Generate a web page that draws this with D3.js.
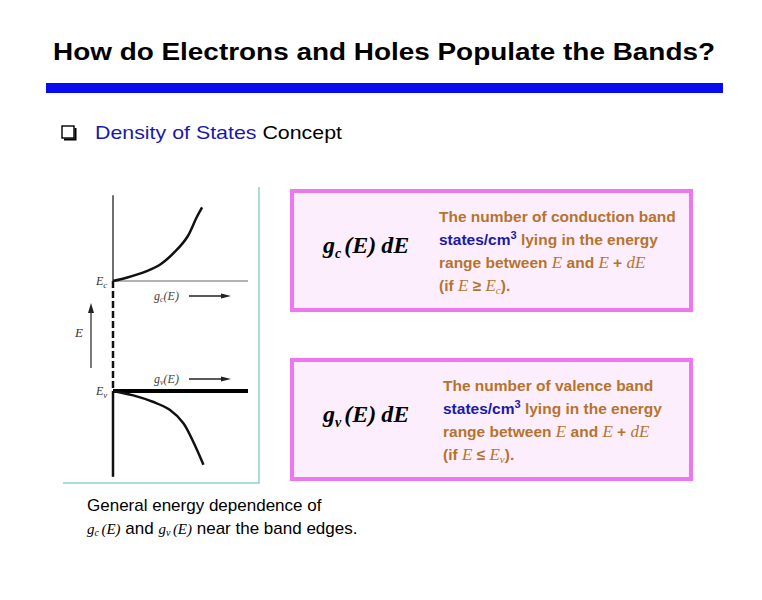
<!DOCTYPE html>
<html>
<head>
<meta charset="utf-8">
<script src="https://cdn.jsdelivr.net/npm/d3@7"></script>
<style>
body { margin: 0; background: #fff; }
svg { display: block; }
</style>
</head>
<body>
<svg width="762" height="600"></svg>
<script>
// curve points (density in arbitrary units, energy relative to Ev)
const gcDensity = [0, 0.10, 0.25, 0.35, 0.47, 0.55, 0.62, 0.66]
const gcEnergy = [1.0, 1.03, 1.09, 1.15, 1.28, 1.40, 1.58, 1.67]
const gvDensity = [0, 0.15, 0.30, 0.42, 0.52, 0.59, 0.67]
const gvEnergy = [0, -0.04, -0.10, -0.17, -0.29, -0.45, -0.67]
const edgeNames = ['c', 'v']
const edgeEnergy = [1.0, 0]
const axisEnergy = [1.78, -0.78]
const boxBand = ['conduction', 'valence']
const boxSign = ['≥', '≤']

const brown = '#b5742c'
const blue = '#1a1aa8'
const serif = '"Liberation Serif", "DejaVu Serif", serif'
const sans = '"Liberation Sans", Arial, sans-serif'

const svg = d3.select('svg')

// header
svg.append('text')
  .attr('x', 53).attr('y', 60)
  .attr('textLength', 662).attr('lengthAdjust', 'spacingAndGlyphs')
  .style('font', `bold 23px ${sans}`)
  .text('How do Electrons and Holes Populate the Bands?')

svg.append('rect')
  .attr('x', 46).attr('y', 83).attr('width', 677).attr('height', 10)
  .attr('fill', '#0a0af0')

// bullet box
svg.append('rect').attr('x', 62).attr('y', 126).attr('width', 12).attr('height', 12)
  .attr('fill', 'none').attr('stroke', '#000').attr('stroke-width', 1.4)
svg.append('path').attr('d', 'M64,139.5 H75.5 V128')
  .attr('fill', 'none').attr('stroke', '#000').attr('stroke-width', 2)

const sub = svg.append('text')
  .attr('x', 95).attr('y', 139)
  .attr('textLength', 247).attr('lengthAdjust', 'spacingAndGlyphs')
  .style('font', `19px ${sans}`)
sub.append('tspan').attr('fill', blue).text('Density of States ')
sub.append('tspan').attr('fill', '#000').text('Concept')

// diagram
const x = d3.scaleLinear().domain([0, 1]).range([113, 248])
const y = d3.scaleLinear().domain([0, 1]).range([391, 281])

const diag = svg.append('g')

// frame
diag.append('path')
  .attr('d', `M259,187 V483 H63`)
  .attr('fill', 'none').attr('stroke', '#8fd0d0').attr('stroke-width', 1.5)

// energy axis
diag.append('line')
  .attr('x1', x(0)).attr('x2', x(0))
  .attr('y1', y(axisEnergy[0])).attr('y2', y(edgeEnergy[0]))
  .attr('stroke', '#222').attr('stroke-width', 1.3)
diag.append('line')
  .attr('x1', x(0)).attr('x2', x(0))
  .attr('y1', y(edgeEnergy[0])).attr('y2', y(edgeEnergy[1]))
  .attr('stroke', '#111').attr('stroke-width', 2.5)
  .attr('stroke-dasharray', '7,3')
diag.append('line')
  .attr('x1', x(0)).attr('x2', x(0))
  .attr('y1', y(edgeEnergy[1])).attr('y2', y(axisEnergy[1]))
  .attr('stroke', '#111').attr('stroke-width', 2.5)

// band edges
diag.append('line')
  .attr('x1', x(0)).attr('x2', x(1))
  .attr('y1', y(edgeEnergy[0])).attr('y2', y(edgeEnergy[0]))
  .attr('stroke', '#999').attr('stroke-width', 1.5)
diag.append('line')
  .attr('x1', x(0)).attr('x2', x(1))
  .attr('y1', y(edgeEnergy[1])).attr('y2', y(edgeEnergy[1]))
  .attr('stroke', '#000').attr('stroke-width', 4)

const line = d3.line()
  .x(d => x(d[0]))
  .y(d => y(d[1]))
  .curve(d3.curveCatmullRom)

diag.append('path')
  .datum(d3.zip(gcDensity, gcEnergy))
  .attr('d', line)
  .attr('fill', 'none').attr('stroke', '#111').attr('stroke-width', 2.5)
diag.append('path')
  .datum(d3.zip(gvDensity, gvEnergy))
  .attr('d', line)
  .attr('fill', 'none').attr('stroke', '#111').attr('stroke-width', 2.5)

// edge labels
edgeNames.forEach((n, i) => {
  const t = diag.append('text')
    .attr('x', 96).attr('y', y(edgeEnergy[i]) + 4)
    .attr('fill', '#333')
    .style('font', `italic 12px ${serif}`)
  t.append('tspan').text('E')
  t.append('tspan').attr('dy', 3).style('font-size', '9px').text(n)
})

// E arrow
diag.append('line')
  .attr('x1', 91).attr('x2', 91).attr('y1', 368).attr('y2', 310)
  .attr('stroke', '#222').attr('stroke-width', 1.2)
diag.append('path').attr('d', 'M88,313 L91,303 L94,313 Z').attr('fill', '#222')
diag.append('text').attr('x', 75).attr('y', 337)
  .attr('fill', '#333').style('font', `italic 13px ${serif}`).text('E')

// g labels with arrows
const gLabY = [296, 379]
edgeNames.forEach((n, i) => {
  const t = diag.append('text')
    .attr('x', 154).attr('y', gLabY[i] + 4)
    .attr('fill', '#444')
    .style('font', `italic 12px ${serif}`)
  t.append('tspan').text('g')
  t.append('tspan').attr('dy', 2).style('font-size', '8px').text(n)
  t.append('tspan').attr('dy', -2).text('(E)')
  diag.append('line')
    .attr('x1', 189).attr('x2', 224).attr('y1', gLabY[i]).attr('y2', gLabY[i])
    .attr('stroke', '#222').attr('stroke-width', 1.3)
  diag.append('path')
    .attr('d', `M221,${gLabY[i] - 2.5} L231,${gLabY[i]} L221,${gLabY[i] + 2.5} Z`)
    .attr('fill', '#222')
})

// caption
const cs = 17
const cap = svg.append('g').style('font', `${cs}px ${sans}`)
cap.append('text').attr('x', 87).attr('y', 511).text('General energy dependence of')
const cap2 = cap.append('text').attr('x', 87).attr('y', 534)
cap2.append('tspan').style('font', `italic 15px ${serif}`).text('g')
cap2.append('tspan').attr('dy', 2).style('font', `italic 10px ${serif}`).text('c ')
cap2.append('tspan').attr('dy', -2).style('font', `italic 15px ${serif}`).text('(E)')
cap2.append('tspan').text(' and   ')
cap2.append('tspan').style('font', `italic 15px ${serif}`).text('g')
cap2.append('tspan').attr('dy', 2).style('font', `italic 10px ${serif}`).text('v ')
cap2.append('tspan').attr('dy', -2).style('font', `italic 15px ${serif}`).text('(E)')
cap2.append('tspan').text(' near the band edges.')

// definition boxes
const boxY = [191, 360]
const textX = [439, 443]
edgeNames.forEach((n, i) => {
  const g = svg.append('g')
  g.append('rect')
    .attr('x', 292).attr('y', boxY[i]).attr('width', 399).attr('height', 119)
    .attr('fill', '#fdeefd').attr('stroke', '#ee77ee').attr('stroke-width', 4)

  const f = g.append('text')
    .attr('x', 323).attr('y', boxY[i] + 62)
    .attr('fill', '#000')
    .style('font', `bold italic 24px ${serif}`)
  f.append('tspan').text('g')
  f.append('tspan').attr('dy', 5).style('font-size', '14px').text(n)
  f.append('tspan').attr('dy', -5).attr('dx', 3).text('(E)')
  f.append('tspan').attr('dx', 5).text('dE')

  const tx = textX[i]
  const by = boxY[i]
  const s = `bold 15.5px ${sans}`
  const it = `italic 17px ${serif}`
  g.append('text').attr('x', tx).attr('y', by + 31)
    .attr('fill', brown).style('font', s)
    .text(`The number of ${boxBand[i]} band`)
  const l2 = g.append('text').attr('x', tx).attr('y', by + 54).style('font', s)
  l2.append('tspan').attr('fill', blue).text('states/cm')
  l2.append('tspan').attr('fill', blue).attr('dy', -6).style('font-size', '11px').text('3')
  l2.append('tspan').attr('fill', brown).attr('dy', 6).text(' lying in the energy')
  const l3 = g.append('text').attr('x', tx).attr('y', by + 77).attr('fill', brown).style('font', s)
  l3.append('tspan').text('range between ')
  l3.append('tspan').style('font', it).text('E')
  l3.append('tspan').text(' and ')
  l3.append('tspan').style('font', it).text('E')
  l3.append('tspan').text(' + ')
  l3.append('tspan').style('font', it).text('dE')
  const l4 = g.append('text').attr('x', tx).attr('y', by + 100).attr('fill', brown).style('font', s)
  l4.append('tspan').text('(if ')
  l4.append('tspan').style('font', it).text('E')
  l4.append('tspan').text(` ${boxSign[i]} `)
  l4.append('tspan').style('font', it).text('E')
  l4.append('tspan').attr('dy', 3).style('font', `italic 11px ${serif}`).text(n)
  l4.append('tspan').attr('dy', -3).text(').')
})
</script>
</body>
</html>
